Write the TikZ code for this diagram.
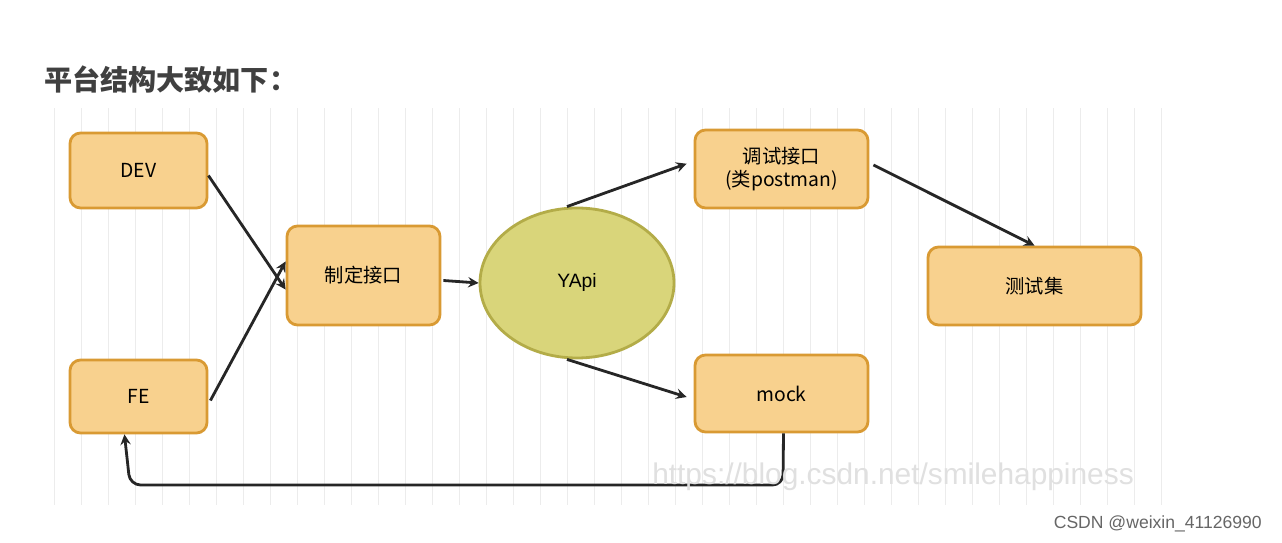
\documentclass[tikz,border=0pt]{standalone}
\usepackage{fontspec}
\setmainfont{Liberation Sans}
\newfontfamily\cjk{Noto Sans CJK SC}
\usetikzlibrary{arrows, shapes.geometric}
\definecolor{boxfill}{HTML}{F8D18E}
\definecolor{boxline}{HTML}{D99A33}
\definecolor{ellfill}{HTML}{D9D57A}
\definecolor{ellline}{HTML}{B3AC48}
\definecolor{gridc}{HTML}{ECECEC}
\tikzset{
	blk/.style={
		draw=boxline,
		fill=boxfill,
		line width=1.6pt,
		rounded corners=6pt,
		font=\fontsize{11}{13}\selectfont\cjk,
		align=center
	},
	arr/.style={
		->,
		>=stealth,
		line width=1.6pt,
		draw=black!85
	}
}

\begin{document}
\begin{tikzpicture}[x=0.02cm, y=-0.02cm]
\useasboundingbox (0,0) rectangle (1282,543);
\fill[white] (0,0) rectangle (1282,543);
\draw[gridc, step=27] (45,108) grid (1163,505);
\node[right, font=\fontsize{16}{18}\selectfont\cjk\bfseries, text=black!75] (title) at (38,80) {平台结构大致如下：};

\node[blk, minimum width=137*0.02cm, minimum height=75*0.02cm] (DEV) at (138.5,170.5) {DEV};
\node[blk, minimum width=137*0.02cm, minimum height=73*0.02cm] (FE) at (138.5,396.5) {FE};
\node[blk, minimum width=153*0.02cm, minimum height=99*0.02cm] (ZD) at (363.5,275.5) {制定接口};
\node[ellipse, draw=ellline, fill=ellfill, line width=1.6pt, minimum width=194*0.02cm, minimum height=150*0.02cm, font=\fontsize{11}{13}\selectfont] (YApi) at (577,283) {YApi};
\node[blk, minimum width=173*0.02cm, minimum height=78*0.02cm] (TS) at (781.5,169) {调试接口\\(类postman)};
\node[blk, minimum width=213*0.02cm, minimum height=78*0.02cm] (CS) at (1034.5,286) {测试集};
\node[blk, minimum width=173*0.02cm, minimum height=77*0.02cm] (MK) at (781.5,393.5) {mock};

\coordinate (c1) at (783,485);
\coordinate (c2) at (130,485);
\draw[arr] (DEV.east) ++(0,5) -- ([yshift=-8]ZD.west);
\draw[arr] (FE.east) ++(2,4) -- ([yshift=8]ZD.west);
\draw[arr] (ZD.east) ++(2,5) -- (YApi.west);
\draw[arr] (YApi.north) ++(-10,0) -- ([xshift=-4,yshift=3]TS.west);
\draw[arr] (YApi.south) ++(-10,0) -- ([xshift=-4,yshift=-2]MK.west);
\draw[arr] (TS.east) ++(4,-4) -- (CS.north);
\draw[arr, rounded corners=6pt] (MK.south) ++(2,0) -- (c1) -- (c2) -- ([xshift=-8]FE.south);

\node[font=\fontsize{17}{19}\selectfont, text=black!12] (wm) at (893,477) {https://blog.csdn.net/smilehappiness};
\node[font=\fontsize{10}{12}\selectfont, text=black!60, left] (csdn) at (1268,524) {CSDN @weixin\_41126990};
\end{tikzpicture}
\end{document}
